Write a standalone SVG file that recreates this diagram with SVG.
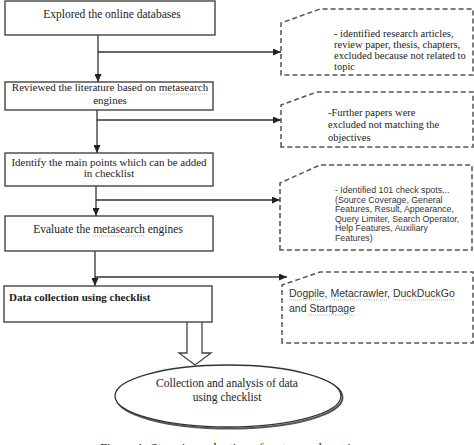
<svg xmlns="http://www.w3.org/2000/svg" width="474" height="445" viewBox="0 0 474 445">
<defs>
<marker id="arr" markerUnits="userSpaceOnUse" markerWidth="8" markerHeight="7" refX="8" refY="3.5" orient="auto">
<path d="M0,0 L8,3.5 L0,7 Z" fill="#222"/>
</marker>
</defs>
<style>
.box{fill:#fff;stroke:#444;stroke-width:1.4}
.dash{fill:#fff;stroke:#555;stroke-width:1.5;stroke-dasharray:5 3}
.conn{fill:none;stroke:#333;stroke-width:1.3}
.serif{font-family:"Liberation Serif","Times New Roman",serif;fill:#222}
.sans{font-family:"Liberation Sans",Arial,sans-serif;fill:#333}
.c{text-anchor:middle}
.sq{stroke:#aaa;stroke-width:0.9;stroke-dasharray:1 1;fill:none}
</style>
<rect width="474" height="445" fill="#fff"/>
<g id="connectors">
<path class="conn" d="M98,35 V82" marker-end="url(#arr)"/>
<path class="conn" d="M98,52 H281" marker-end="url(#arr)"/>
<path class="conn" d="M97,110 V153" marker-end="url(#arr)"/>
<path class="conn" d="M97,120 H281" marker-end="url(#arr)"/>
<path class="conn" d="M96,186 V216" marker-end="url(#arr)"/>
<path class="conn" d="M96,200 H280" marker-end="url(#arr)"/>
<path class="conn" d="M95,251 V286" marker-end="url(#arr)"/>
<path class="conn" d="M95,277 H287" marker-end="url(#arr)"/>
<path d="M187,322 V353 H179 L195,365 L211,353 H202 V322" fill="#fff" stroke="#444" stroke-width="1.3"/>
</g>
<g id="n1">
<rect class="box" x="5" y="1" width="210" height="34"/>
<text class="serif c" x="112" y="18" font-size="11.5">Explored the online databases</text>
</g>
<g id="n2">
<rect class="box" x="5" y="82" width="208" height="28"/>
<text class="serif c" x="110" y="91" font-size="11">Reviewed the literature based on metasearch</text>
<text class="serif c" x="110" y="104" font-size="11">engines</text>
<path class="sq" d="M158,94 H207"/>
</g>
<g id="n3">
<rect class="box" x="5" y="153" width="208" height="33"/>
<text class="serif c" x="109" y="166" font-size="11">Identify the main points which can be added</text>
<text class="serif c" x="109" y="177" font-size="11">in checklist</text>
</g>
<g id="n4">
<rect class="box" x="5" y="216" width="208" height="35"/>
<text class="serif c" x="108" y="233" font-size="11.5">Evaluate the metasearch engines</text>
<path class="sq" d="M93,236 H145"/>
</g>
<g id="n5">
<rect class="box" x="4" y="286" width="208" height="36"/>
<text class="serif" x="9" y="301" font-size="11" font-weight="bold">Data collection using checklist</text>
</g>
<g id="d1">
<path class="dash" d="M281,75 V23 L320,9 H473 V75 Z"/>
<text class="serif" x="334" y="37" font-size="10.5">- identified research articles,</text>
<text class="serif" x="334" y="48" font-size="10.5">review paper, thesis, chapters,</text>
<text class="serif" x="334" y="59" font-size="10.5">excluded because not related to</text>
<text class="serif" x="334" y="70" font-size="10.5">topic</text>
</g>
<g id="d2">
<path class="dash" d="M281,147 V105 L317,92 H473 V147 Z"/>
<text class="serif" x="328" y="116" font-size="10.5">-Further papers were</text>
<text class="serif" x="328" y="128" font-size="10.5">excluded not matching the</text>
<text class="serif" x="328" y="141" font-size="10.5">objectives</text>
</g>
<g id="d3">
<path class="dash" d="M280,250 V183 L320,165 H472 V250 Z"/>
<text class="sans" x="335" y="193" font-size="8.8">- Identified 101 check spots,..</text>
<text class="sans" x="335" y="202.5" font-size="8.8">(Source Coverage, General</text>
<text class="sans" x="335" y="212" font-size="8.8">Features, Result, Appearance,</text>
<text class="sans" x="335" y="221.5" font-size="8.8">Query Limiter, Search Operator,</text>
<text class="sans" x="335" y="231" font-size="8.8">Help Features, Auxiliary</text>
<text class="sans" x="335" y="240.5" font-size="8.8">Features)</text>
</g>
<g id="d4">
<path class="dash" d="M282,343 V285 L320,272 H473 V343 Z"/>
<text class="sans" x="289" y="297" font-size="10.5">Dogpile, Metacrawler, DuckDuckGo</text>
<text class="sans" x="289" y="312" font-size="10.5">and Startpage</text>
<path class="sq" d="M289,300 H325 M330,300 H388 M393,300 H455 M309,315 H355"/>
</g>
<g id="n6">
<ellipse cx="229.5" cy="397.5" rx="113" ry="31" fill="none" stroke="#555" stroke-width="2"/>
<ellipse cx="228" cy="396" rx="113" ry="31" fill="#fff" stroke="#333" stroke-width="1.3"/>
<text class="serif c" x="227" y="387" font-size="11.5">Collection and analysis of data</text>
<text class="serif c" x="227" y="401" font-size="11.5">using checklist</text>
</g>
<text class="serif c" x="234" y="452" font-size="13">Figure 1: Steps in evaluation of metasearch engines</text>
</svg>
